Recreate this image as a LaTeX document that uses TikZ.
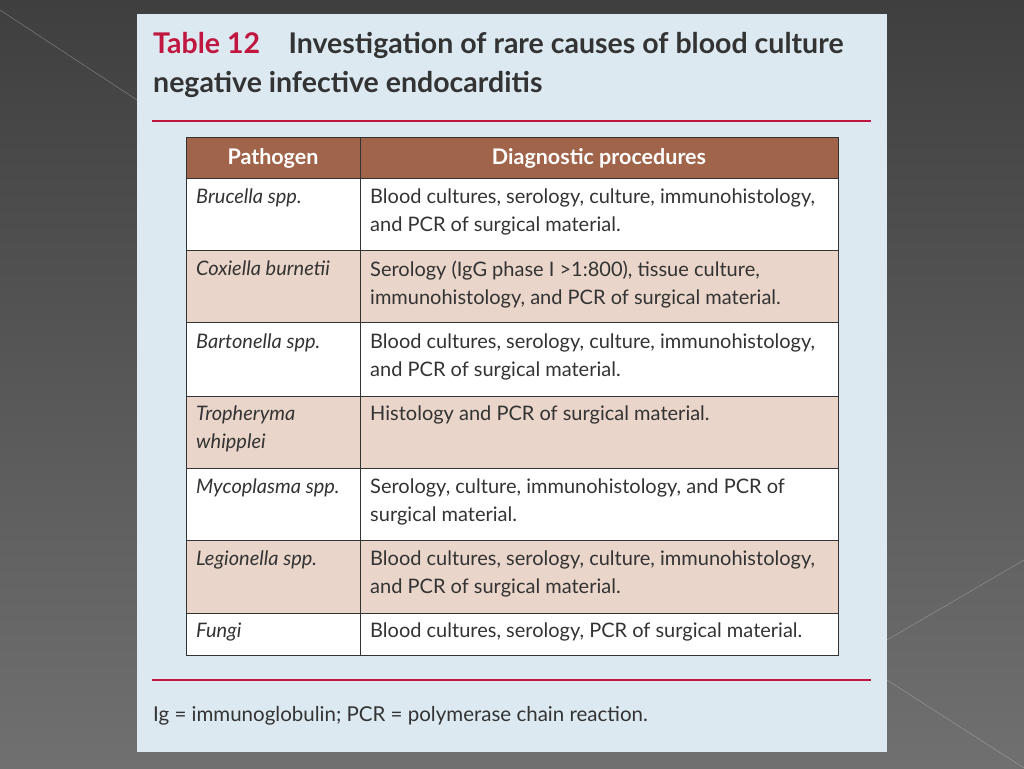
\documentclass[tikz,border=0pt]{standalone}
\usepackage{fontspec}
\setmainfont{Lato}
\definecolor{bgA}{HTML}{3F3F3F}
\definecolor{bgB}{HTML}{707070}
\definecolor{panel}{HTML}{DCE9F0}
\definecolor{tred}{HTML}{C0163F}
\definecolor{tgray}{HTML}{333333}
\definecolor{hdr}{HTML}{A0644A}
\definecolor{rowb}{HTML}{E9D5C9}
\begin{document}
\begin{tikzpicture}[x=1pt,y=-1pt,
  cell/.style={anchor=north west,align=left,font=\fontsize{20}{28}\selectfont,text=tgray,inner sep=0pt},
  hd/.style={font=\fontsize{21.5}{24}\selectfont\bfseries,text=white},
  rline/.style={draw=tred,line width=2pt}]
\useasboundingbox (0,0) rectangle (1024,768);
\shade[top color=bgA,bottom color=bgB] (0,0) rectangle (1024,768);
\draw[white!60!gray,opacity=0.5] (0,10) -- (137,100);
\draw[white!60!gray,opacity=0.5] (887,640) -- (1024,560);
\draw[white!60!gray,opacity=0.5] (887,680) -- (1024,768);
\fill[panel] (137,14) rectangle (887,752);
\node[anchor=west,inner sep=0pt,font=\fontsize{28.5}{32}\selectfont\bfseries] (title1) at (153,45)
  {\textcolor{tred}{Table 12}\quad\textcolor{tgray}{Investigation of rare causes of blood culture}};
\node[anchor=west,inner sep=0pt,font=\fontsize{28.5}{32}\selectfont\bfseries,text=tgray] (title2) at (153,84)
  {negative infective endocarditis};
\draw[rline] (152,121) -- (871,121);
\draw[rline] (152,680) -- (871,680);
\node[anchor=west,inner sep=0pt,font=\fontsize{20.5}{24}\selectfont,text=tgray] (foot) at (153,716)
  {Ig = immunoglobulin; PCR = polymerase chain reaction.};
% rows
\fill[hdr] (186,137) rectangle (838,178);
\fill[white] (186,178) rectangle (838,250);
\fill[rowb] (186,250) rectangle (838,322);
\fill[white] (186,322) rectangle (838,396);
\fill[rowb] (186,396) rectangle (838,468);
\fill[white] (186,468) rectangle (838,540);
\fill[rowb] (186,540) rectangle (838,613);
\fill[white] (186,613) rectangle (838,655);
\draw[tgray,line width=1pt] (186,137) rectangle (838,655);
\draw[tgray,line width=1pt] (360,137) -- (360,655);
\foreach \y in {178,250,322,396,468,540,613} \draw[tgray,line width=0.8pt] (186,\y) -- (838,\y);
\node[hd] (h1) at (273,158) {Pathogen};
\node[hd] (h2) at (599,158) {Diagnostic procedures};
\node[cell] (p1) at (196,189) {\itshape Brucella spp.};
\node[cell] (d1) at (370,189) {Blood cultures, serology, culture, immunohistology,\\and PCR of surgical material.};
\node[cell] (p2) at (196,261) {\itshape Coxiella burnetii};
\node[cell] (d2) at (370,261) {Serology (IgG phase I >1:800), tissue culture,\\immunohistology, and PCR of surgical material.};
\node[cell] (p3) at (196,334) {\itshape Bartonella spp.};
\node[cell] (d3) at (370,334) {Blood cultures, serology, culture, immunohistology,\\and PCR of surgical material.};
\node[cell] (p4) at (196,406) {\itshape Tropheryma\\\itshape whipplei};
\node[cell] (d4) at (370,406) {Histology and PCR of surgical material.};
\node[cell] (p5) at (196,479) {\itshape Mycoplasma spp.};
\node[cell] (d5) at (370,479) {Serology, culture, immunohistology, and PCR of\\surgical material.};
\node[cell] (p6) at (196,551) {\itshape Legionella spp.};
\node[cell] (d6) at (370,551) {Blood cultures, serology, culture, immunohistology,\\and PCR of surgical material.};
\node[cell] (p7) at (196,623) {\itshape Fungi};
\node[cell] (d7) at (370,623) {Blood cultures, serology, PCR of surgical material.};
\end{tikzpicture}
\end{document}
